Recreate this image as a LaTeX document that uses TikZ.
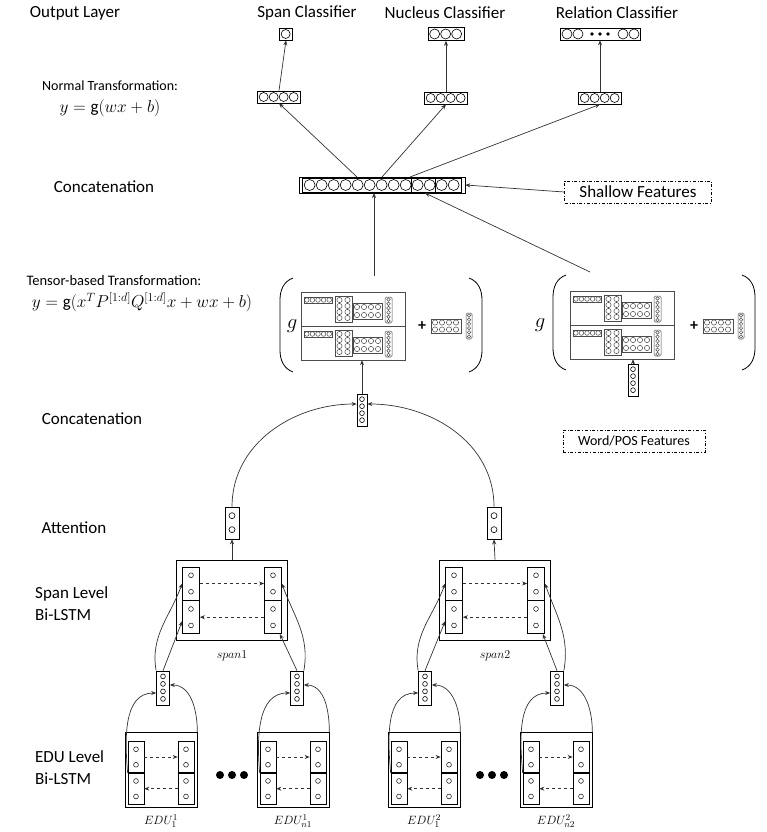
\documentclass[tikz,border=0pt]{standalone}
\usepackage{fontspec}
\setmainfont{Carlito}
\usetikzlibrary{calc,arrows.meta}
\tikzset{
  ln/.style={draw=black!80, line width=0.7pt},
  arr/.style={ln,-{Stealth[length=5pt,width=4pt]}},
  darr/.style={arr,dashed},
  lab/.style={font=\fontsize{17}{20}\selectfont, inner sep=0},
  box/.style={draw, line width=0.7pt, inner sep=0},
  thin/.style={draw=black!70, line width=0.5pt},
}
\newcommand\hvec[5]{% name cx cy n r
  \node[box,minimum width={#4*(2*#5+1)+3},minimum height={2*#5+3}] (#1) at (#2,#3) {};
  \foreach \i in {1,...,#4}{\draw[line width=0.6pt] ($(#1.west)+({(\i-0.5)*(2*#5+1)+1.5},0)$) circle (#5pt);}}
\newcommand\vvec[7]{% name cx cy n r spacing width
  \node[box,minimum width=#7,minimum height={#4*#6+4}] (#1) at (#2,#3) {};
  \foreach \i in {1,...,#4}{\draw[line width=0.6pt] ($(#1.north)+(0,{(\i-0.5)*#6+2})$) circle (#5pt);}}
\newcommand\lstm[9]{% name cx cy w h cw ch mx my
  \node[box,minimum width=#4,minimum height=#5] (#1) at (#2,#3) {};
  \node[box,minimum width=#6,minimum height=#7,anchor=north west] (#1lt) at ($(#1.north west)+(#8,#9)$) {};
  \node[box,minimum width=#6,minimum height=#7,anchor=north] (#1lb) at (#1lt.south) {};
  \node[box,minimum width=#6,minimum height=#7,anchor=north east] (#1rt) at ($(#1.north east)+(-#8,#9)$) {};
  \node[box,minimum width=#6,minimum height=#7,anchor=north] (#1rb) at (#1rt.south) {};
  \foreach \c in {lt,lb,rt,rb}{
    \draw[line width=0.5pt] ($(#1\c.center)+(0,{#7/4})$) circle (2.4pt);
    \draw[line width=0.5pt] ($(#1\c.center)+(0,{-#7/4})$) circle (2.4pt);}
  \draw[darr] (#1lt.east) -- (#1rt.west);
  \draw[darr] (#1rb.west) -- (#1lb.east);}
\newcommand\thalf[2]{% top-left x y
  \draw[thin] (#1,#2) rectangle ++(104,34);
  \draw[thin] (#1+3,#2+5) rectangle ++(28,6);
  \foreach \i in {0,...,4}{\draw[thin] (#1+5.8+\i*5.6,#2+8) circle (2.3pt);}
  \draw[thin] (#1+34,#2+4) rectangle ++(17,26);
  \foreach \i in {0,1}{\foreach \j in {0,...,3}{\draw[thin] (#1+38.5+\i*8,#2+8+\j*6) circle (2.6pt);}}
  \draw[thin] (#1+52,#2+11) rectangle ++(29,16);
  \foreach \i in {0,...,3}{\foreach \j in {0,1}{\draw[thin] (#1+56+\i*7,#2+15+\j*8) circle (2.6pt);}}
  \draw[thin,rounded corners=1.5pt] (#1+84,#2+5) rectangle ++(7,26);
  \foreach \j in {0,...,5}{\draw[thin] (#1+87.5,#2+7.5+\j*4.3) circle (1.8pt);}}
\newcommand\lparen[3]{\draw[line width=0.8pt] (#1+13,#2) to[out=200,in=90] (#1,#2+22) -- (#1,#3-22) to[out=-90,in=160] (#1+13,#3);}
\newcommand\rparen[3]{\draw[line width=0.8pt] (#1-13,#2) to[out=-20,in=90] (#1,#2+22) -- (#1,#3-22) to[out=-90,in=20] (#1-13,#3);}
\newcommand\biasterms[2]{% plus x, y
  \node[font=\fontsize{16}{18}\selectfont\bfseries, inner sep=0] at (#1,#2) {+};
  \draw[thin] (#1+9,#2-7) rectangle ++(30,14);
  \foreach \i in {0,...,3}{\foreach \j in {0,1}{\draw[thin] (#1+13+\i*7,#2-3.5+\j*7) circle (2.6pt);}}
  \draw[thin,rounded corners=1.5pt] (#1+44,#2-13) rectangle ++(6,26);
  \foreach \j in {0,...,5}{\draw[thin] (#1+47,#2-10.5+\j*4.2) circle (1.7pt);}}
\begin{document}
\begin{tikzpicture}[x=1pt,y=-1pt]
\useasboundingbox (0,0) rectangle (766,832);
% ---------- left labels
\node[lab] (L1) at (75,13) {Output Layer};
\node[lab,font=\fontsize{14}{16}\selectfont] (L2) at (110,86) {Normal Transformation:};
\node[lab] (L2b) at (110,108) {$y=\mathrm{g}(wx+b)$};
\node[lab] (L3) at (104,187) {Concatenation};
\node[lab,font=\fontsize{14.5}{16}\selectfont] (L4) at (114,281) {Tensor-based Transformation:};
\node[lab] (L4b) at (142,302) {$y=\mathrm{g}(x^TP^{[1:d]}Q^{[1:d]}x+wx+b)$};
\node[lab] (L5) at (92,419) {Concatenation};
\node[lab] (L6) at (74,528) {Attention};
\node[lab,anchor=west,align=left,font=\fontsize{17}{22}\selectfont] (L7) at (35,604) {Span Level\\Bi-LSTM};
\node[lab,anchor=west,align=left,font=\fontsize{17}{22}\selectfont] (L8) at (35,768) {EDU Level\\Bi-LSTM};
% ---------- output layer
\node[lab] (T1) at (307,13) {Span Classifier};
\node[lab] (T2) at (445,13) {Nucleus Classifier};
\node[lab] (T3) at (617,13) {Relation Classifier};
\hvec{sc}{286}{34}{1}{4.5}
\hvec{nc}{446}{34}{3}{5}
\node[box,minimum width=80,minimum height=12] (rc) at (600,34) {};
\foreach \x in {567,578,623,634}{\draw[line width=0.6pt] (\x,34) circle (5pt);}
\foreach \x in {592,600,608}{\fill (\x,34) circle (1.8pt);}
\hvec{h1}{279}{97}{4}{4.5}
\hvec{h2}{446}{98}{4}{4.5}
\hvec{h3}{600}{98}{4}{4.5}
\draw[arr] (h1.north) -- (sc.south);
\draw[arr] (h2.north) -- (nc.south);
\draw[arr] (h3.north) -- (rc.south);
% ---------- concatenation
\node[box,minimum width=166,minimum height=16] (cc) at (382,185) {};
\hvec{cci}{382}{185}{13}{5.5}
\draw[line width=0.7pt] ($(cci.west)+(9*12+1.5,-6.5)$) -- ++(0,13);
\draw[line width=0.7pt] ($(cci.west)+(11*12+1.5,-6.5)$) -- ++(0,13);
\coordinate (c1) at (357,177);
\coordinate (c2) at (382,177);
\coordinate (c3) at (410,177);
\draw[arr] (c1) -- (h1.south);
\draw[arr] (c2) -- (h2.south);
\draw[arr] (c3) -- (h3.south);
\node[draw,dash dot,line width=0.6pt,minimum width=147,minimum height=22,lab] (sf) at (638,192) {Shallow Features};
\draw[arr] (sf.west) -- (cc.east);
% ---------- tensor group 1
\node[lab,font=\fontsize{20}{22}\selectfont] (g1) at (292,326) {$g$};
\lparen{280}{278}{372}
\rparen{482}{278}{372}
\node[inner sep=0,minimum width=104,minimum height=68] (t1) at (353,326) {};
\thalf{301}{292}
\thalf{301}{326}
\biasterms{422}{326}
\coordinate (t1top) at (374,276);
\coordinate (cin1) at (374,193);
\coordinate (cin2) at (425,193);
\draw[arr] (t1top) -- (cin1);
% ---------- tensor group 2
\node[lab,font=\fontsize{20}{22}\selectfont] (g2) at (540,325) {$g$};
\lparen{553}{275}{370}
\rparen{755}{275}{370}
\node[inner sep=0,minimum width=104,minimum height=68] (t2) at (622,325) {};
\thalf{570}{291}
\thalf{570}{325}
\biasterms{694}{326}
\coordinate (t2top) at (590,272);
\draw[arr] (t2top) -- (cin2);
% ---------- concatenation vector & word/pos
\vvec{cv}{362}{410}{4}{2.4}{7}{10}
\draw[arr] (cv.north) -- (cv.north |- t1.south);
\vvec{wv}{633}{380}{4}{2.4}{7}{10}
\draw[arr] (wv.north) -- (wv.north |- t2.south);
\node[draw,dash dot,line width=0.6pt,minimum width=142,minimum height=22,lab,font=\fontsize{14}{16}\selectfont] (wp) at (634,441) {Word/POS Features};
% ---------- attention
\vvec{a1}{232}{523}{2}{3}{14}{14}
\vvec{a2}{494}{523}{2}{3}{14}{14}
\draw[arr] (a1.north) to[out=90,in=180] ([yshift=6pt]cv.west);
\draw[arr] (a2.north) to[out=90,in=0] ([yshift=6pt]cv.east);
% ---------- span level
\lstm{sp1}{232}{600}{111}{80}{17}{33}{6}{7}
\lstm{sp2}{495}{600}{111}{80}{17}{33}{6}{7}
\draw[arr] (sp1.north) -- (a1.south);
\draw[arr] (sp2.north) -- (a2.south);
\node[lab,font=\fontsize{13}{15}\selectfont] (s1l) at (232,656) {$span1$};
\node[lab,font=\fontsize{13}{15}\selectfont] (s2l) at (495,656) {$span2$};
% ---------- EDU vectors
\vvec{e1}{163}{688}{4}{2.4}{7.5}{13}
\vvec{e2}{297}{688}{4}{2.4}{7.5}{13}
\vvec{e3}{425}{688}{4}{2.4}{7.5}{13}
\vvec{e4}{557}{688}{4}{2.4}{7.5}{13}
\draw[arr] (e1.north) -- ([yshift=-4pt]sp1lb.west);
\draw[arr] (e1.north west) to[out=100,in=-110] (sp1lt.west);
\draw[arr] (e2.north) -- ([xshift=-2pt]sp1rb.south east);
\draw[arr] (e2.north east) to[out=80,in=-70] (sp1rt.east);
\draw[arr] (e3.north) -- ([yshift=-4pt]sp2lb.west);
\draw[arr] (e3.north west) to[out=100,in=-110] (sp2lt.west);
\draw[arr] (e4.north) -- ([xshift=-2pt]sp2rb.south east);
\draw[arr] (e4.north east) to[out=80,in=-70] (sp2rt.east);
% ---------- EDU level
\lstm{ed1}{161}{770}{72}{75}{16}{31}{3}{9}
\lstm{ed2}{293}{770}{72}{75}{16}{31}{3}{9}
\lstm{ed3}{424}{770}{72}{75}{16}{31}{3}{9}
\lstm{ed4}{556}{770}{72}{75}{16}{31}{3}{9}
\foreach \n/\m in {ed1/e1,ed2/e2,ed3/e3,ed4/e4}{
  \draw[arr] (\n lb.north west) to[out=95,in=180] ([yshift=-5pt]\m.west);
  \draw[arr] (\n.north east) to[out=90,in=0] ([yshift=3pt]\m.east);}
\foreach \x in {220,232,244,480,492,504}{\fill (\x,775) circle (4pt);}
\node[lab,font=\fontsize{13}{15}\selectfont] (el1) at (161,821) {$EDU_1^1$};
\node[lab,font=\fontsize{13}{15}\selectfont] (el2) at (293,821) {$EDU_{n1}^1$};
\node[lab,font=\fontsize{13}{15}\selectfont] (el3) at (424,821) {$EDU_1^2$};
\node[lab,font=\fontsize{13}{15}\selectfont] (el4) at (556,821) {$EDU_{n2}^2$};
\end{tikzpicture}
\end{document}
